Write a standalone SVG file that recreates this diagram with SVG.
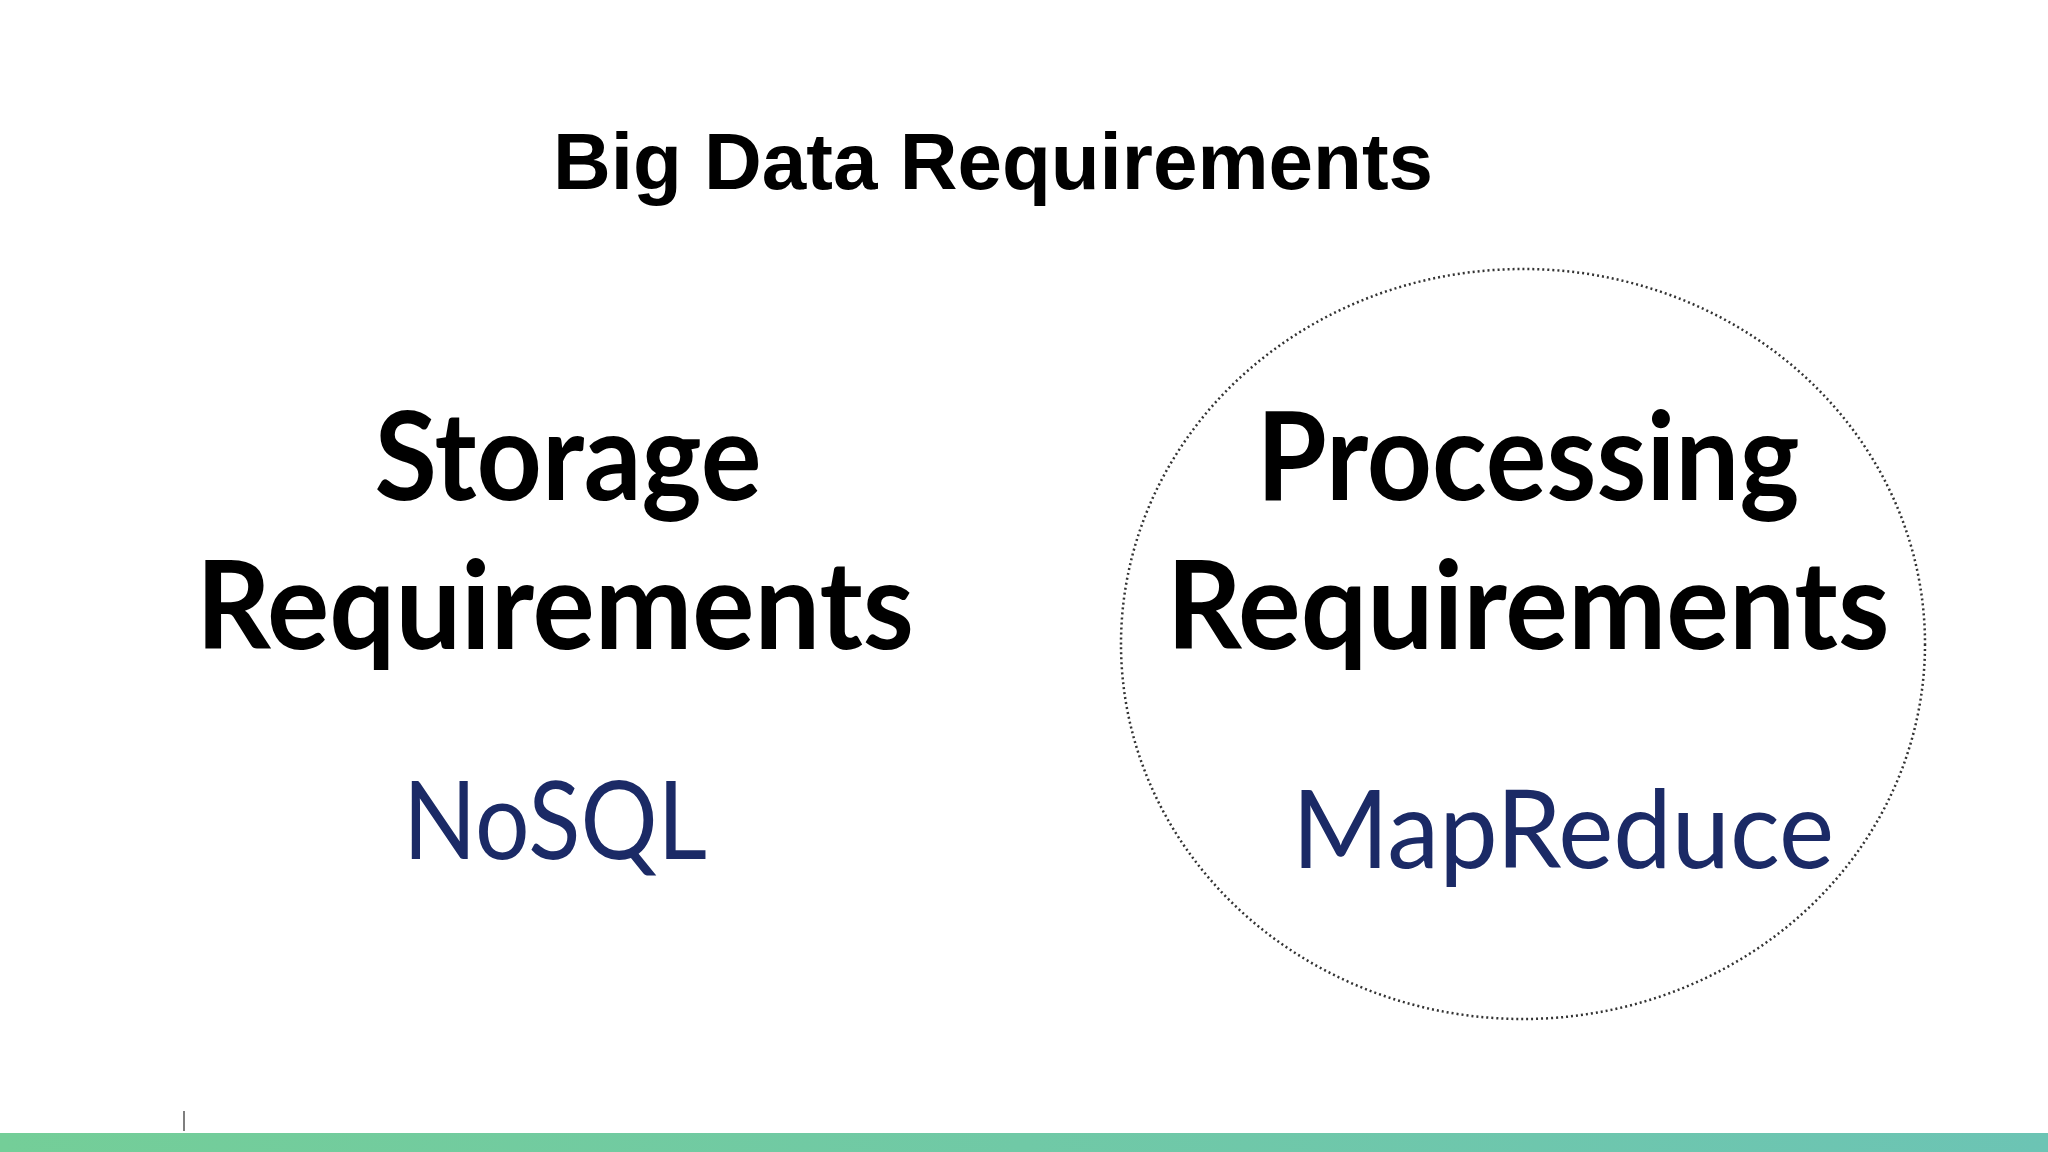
<svg xmlns="http://www.w3.org/2000/svg" width="2048" height="1152" viewBox="0 0 2048 1152">
<defs>
<linearGradient id="bar" x1="0" x2="1" y1="0" y2="0"><stop offset="0" stop-color="#74CE98"/><stop offset="1" stop-color="#6CC4B4"/></linearGradient>
<style>
.t{font-family:"Liberation Sans",Arial,sans-serif;font-weight:bold;font-size:80px;fill:#000}
.h{font-family:Lato,"Open Sans",sans-serif;font-weight:bold;font-size:122px;fill:#000}
.b{font-family:Lato,"Open Sans",sans-serif;font-size:108px;fill:#1B2A66}
</style>
</defs>
<rect width="2048" height="1152" fill="#fff"/>
<text class="t" x="993" y="189" text-anchor="middle" textLength="880" lengthAdjust="spacingAndGlyphs">Big Data Requirements</text>
<g id="storage">
<text class="h" x="568" y="500" text-anchor="middle" textLength="387" lengthAdjust="spacingAndGlyphs">Storage</text>
<text class="h" x="555" y="649" text-anchor="middle" textLength="718" lengthAdjust="spacingAndGlyphs">Requirements</text>
<text class="b" x="555" y="859" text-anchor="middle" textLength="304" lengthAdjust="spacingAndGlyphs">NoSQL</text>
</g>
<g id="processing">
<ellipse cx="1523" cy="644" rx="402" ry="375" fill="none" stroke="#333" stroke-width="2.5" stroke-dasharray="2 3"/>
<text class="h" x="1528" y="500" text-anchor="middle" textLength="543" lengthAdjust="spacingAndGlyphs">Processing</text>
<text class="h" x="1528" y="649" text-anchor="middle" textLength="723" lengthAdjust="spacingAndGlyphs">Requirements</text>
<text class="b" x="1563" y="868" text-anchor="middle" textLength="542" lengthAdjust="spacingAndGlyphs">MapReduce</text>
</g>
<g id="connectors"/>
<line x1="184" y1="1111" x2="184" y2="1131" stroke="#555" stroke-width="1.5"/>
<rect x="0" y="1133" width="2048" height="19" fill="url(#bar)"/>
</svg>
